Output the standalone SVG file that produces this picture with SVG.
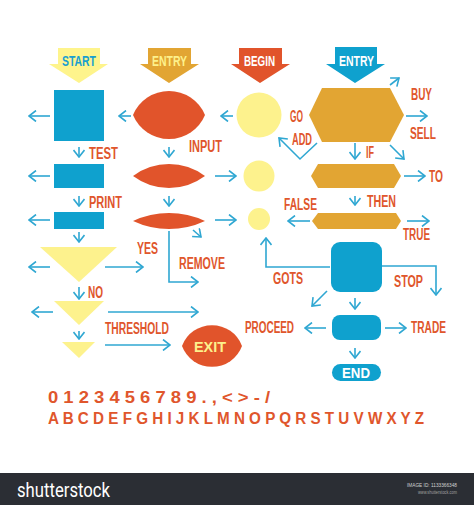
<svg xmlns="http://www.w3.org/2000/svg" width="474" height="505" viewBox="0 0 474 505">
<defs>
<style>
.bl{fill:#0fa1ce}
.or{fill:#e1542b}
.ye{fill:#fdf28d}
.go{fill:#e2a533}
.c{fill:none;stroke:#2fa7d2;stroke-width:1.6;marker-end:url(#ah)}
.t{font-family:"Liberation Sans",Arial,sans-serif;font-weight:bold;font-size:16px;fill:#e0562c}
.h{font-family:"Liberation Sans",Arial,sans-serif;font-weight:bold;font-size:15px}
</style>
<marker id="ah" viewBox="0 0 10 12" refX="9" refY="6" markerWidth="10" markerHeight="12" markerUnits="userSpaceOnUse" orient="auto">
<path d="M2,0.5 L9,6 L2,11.5" fill="none" stroke="#2fa7d2" stroke-width="1.6"/>
</marker>
</defs>
<rect width="474" height="505" fill="#ffffff"/>

<g id="hdr-start"><path d="M58,48 H100 V64 H108 L79,83 L49,64 H58 Z" fill="#fef48c"/><text class="h" x="62" y="66" textLength="34" lengthAdjust="spacingAndGlyphs" fill="#1a9fcf">START</text></g>
<g id="hdr-entry1"><path d="M148,48 H191 V64 H199 L169,83 L140,64 H148 Z" class="go"/><text class="h" x="152" y="66" textLength="35" lengthAdjust="spacingAndGlyphs" fill="#fdf18c">ENTRY</text></g>
<g id="hdr-begin"><path d="M239,48 H282 V64 H290 L260,83 L231,64 H239 Z" class="or"/><text class="h" x="244" y="66" textLength="31" lengthAdjust="spacingAndGlyphs" fill="#ffffff">BEGIN</text></g>
<g id="hdr-entry2"><path d="M335,47 H377 V64 H385 L355,83 L326,64 H335 Z" class="bl"/><text class="h" x="339" y="66" textLength="35" lengthAdjust="spacingAndGlyphs" fill="#ffffff">ENTRY</text></g>

<g id="sq1"><rect x="54" y="90" width="50" height="51" class="bl"/></g>
<g id="sq2"><rect x="54" y="164" width="50" height="24" class="bl"/></g>
<g id="sq3"><rect x="54" y="212" width="50" height="17" class="bl"/></g>
<g id="tri1"><path d="M40,247 H117 L79,282 Z" class="ye"/></g>
<g id="tri2"><path d="M54,301 H104 L79,325 Z" class="ye"/></g>
<g id="tri3"><path d="M62,342 H95 L79,358 Z" class="ye"/></g>

<g id="leaf1"><path d="M133,115 A39,39 0 0 1 205,115 A39,39 0 0 1 133,115 Z" class="or"/></g>
<g id="leaf2"><path d="M133,176 A60,60 0 0 1 205,176 A60,60 0 0 1 133,176 Z" class="or"/></g>
<g id="leaf3"><path d="M133,221 A85,85 0 0 1 205,221 A85,85 0 0 1 133,221 Z" class="or"/></g>
<g id="exit"><path d="M182,346 A32,32 0 0 1 242,346 A32,32 0 0 1 182,346 Z" class="or"/><text class="h" font-size="19" x="194" y="352" textLength="32" lengthAdjust="spacingAndGlyphs" fill="#fdf18c">EXIT</text></g>

<g id="circ1"><circle cx="259" cy="115" r="22.5" class="ye"/></g>
<g id="circ2"><circle cx="259" cy="176" r="15.5" class="ye"/></g>
<g id="circ3"><circle cx="259" cy="219" r="11" class="ye"/></g>

<g id="hex1"><path d="M322,88 H390 L404,115 L390,142 H322 L309,115 Z" class="go"/></g>
<g id="hex2"><path d="M318,164 H394 L401,176 L394,188 H318 L311,176 Z" class="go"/></g>
<g id="hex3"><path d="M318,213 H396 L401,221 L396,229 H318 L312,221 Z" class="go"/></g>

<g id="box1"><rect x="331" y="242" width="51" height="50" rx="9" class="bl"/></g>
<g id="box2"><rect x="332" y="315" width="49" height="25" rx="8" class="bl"/></g>
<g id="end"><rect x="332" y="364" width="49" height="17" rx="8.5" class="bl"/><text class="h" font-size="16" x="342" y="378" textLength="28" lengthAdjust="spacingAndGlyphs" fill="#ffffff">END</text></g>

<g id="connectors">
<path class="c" d="M50,116 H29"/>
<path class="c" d="M50,176 H29"/>
<path class="c" d="M50,220 H29"/>
<path class="c" d="M50,267 H29"/>
<path class="c" d="M53,312 H32"/>
<path class="c" d="M79,147 V157"/>
<path class="c" d="M79,196 V206"/>
<path class="c" d="M79,232 V242"/>
<path class="c" d="M79,287 V299"/>
<path class="c" d="M79,331 V339"/>
<path class="c" d="M105,267 H143"/>
<path class="c" d="M108,312 H198"/>
<path class="c" d="M105,345 H170"/>
<path class="c" d="M131,116 H119"/>
<path class="c" d="M169,147 V157"/>
<path class="c" d="M169,196 V206"/>
<path class="c" d="M215,176 H236"/>
<path class="c" d="M215,220 H236"/>
<path class="c" d="M169,231 V282 H198"/>
<path class="c" d="M193,230 L201,237"/>
<path class="c" d="M233,116 H221"/>
<path class="c" d="M317,143 L300,159 L279,138"/>
<path class="c" d="M390,85 L399,78"/>
<path class="c" d="M406,116 H427"/>
<path class="c" d="M390,145 L404,159"/>
<path class="c" d="M355,143 V159"/>
<path class="c" d="M404,176 H425"/>
<path class="c" d="M355,196 V205"/>
<path class="c" d="M310,221 H288"/>
<path class="c" d="M407,221 H429"/>
<path class="c" d="M330,267 H266 V238"/>
<path class="c" d="M382,266 H436 V295"/>
<path class="c" d="M327,291 L312,306"/>
<path class="c" d="M355,298 V309"/>
<path class="c" d="M326,328 H305"/>
<path class="c" d="M385,328 H406"/>
<path class="c" d="M355,348 V358"/>
</g>

<g id="labels">
<text class="t" x="89" y="159" textLength="29" lengthAdjust="spacingAndGlyphs">TEST</text>
<text class="t" x="89" y="208" textLength="33" lengthAdjust="spacingAndGlyphs">PRINT</text>
<text class="t" x="189" y="152" textLength="33" lengthAdjust="spacingAndGlyphs">INPUT</text>
<text class="t" x="137" y="254" textLength="21" lengthAdjust="spacingAndGlyphs">YES</text>
<text class="t" x="88" y="298" textLength="15" lengthAdjust="spacingAndGlyphs">NO</text>
<text class="t" x="179" y="269" textLength="46" lengthAdjust="spacingAndGlyphs">REMOVE</text>
<text class="t" x="105" y="334" textLength="64" lengthAdjust="spacingAndGlyphs">THRESHOLD</text>
<text class="t" x="245" y="333" textLength="49" lengthAdjust="spacingAndGlyphs">PROCEED</text>
<text class="t" x="411" y="333" textLength="35" lengthAdjust="spacingAndGlyphs">TRADE</text>
<text class="t" x="273" y="284" textLength="30" lengthAdjust="spacingAndGlyphs">GOTS</text>
<text class="t" x="394" y="287" textLength="29" lengthAdjust="spacingAndGlyphs">STOP</text>
<text class="t" x="284" y="210" textLength="33" lengthAdjust="spacingAndGlyphs">FALSE</text>
<text class="t" x="403" y="240" textLength="27" lengthAdjust="spacingAndGlyphs">TRUE</text>
<text class="t" x="367" y="207" textLength="29" lengthAdjust="spacingAndGlyphs">THEN</text>
<text class="t" x="429" y="182" textLength="14" lengthAdjust="spacingAndGlyphs">TO</text>
<text class="t" x="366" y="158" textLength="8" lengthAdjust="spacingAndGlyphs">IF</text>
<text class="t" x="410" y="139" textLength="26" lengthAdjust="spacingAndGlyphs">SELL</text>
<text class="t" x="411" y="100" textLength="21" lengthAdjust="spacingAndGlyphs">BUY</text>
<text class="t" x="290" y="122" textLength="13" lengthAdjust="spacingAndGlyphs">GO</text>
<text class="t" x="292" y="145" textLength="20" lengthAdjust="spacingAndGlyphs">ADD</text>
<text class="t" font-size="18" x="48" y="403" textLength="222" lengthAdjust="spacingAndGlyphs">0 1 2 3 4 5 6 7 8 9 . , &lt; &gt; - /</text>
<text class="t" font-size="18" x="48" y="424" textLength="376" lengthAdjust="spacingAndGlyphs">A B C D E F G H I J K L M N O P Q R S T U V W X Y Z</text>
</g>

<g id="footer">
<rect x="0" y="473" width="474" height="32" fill="#2b2e34"/>
<text x="17" y="497" font-family="Roboto,'Liberation Sans',sans-serif" font-size="20" fill="#ffffff" textLength="93" lengthAdjust="spacingAndGlyphs">shutterstock</text>
<text x="407" y="487" font-family="'Liberation Sans',sans-serif" font-size="5.5" fill="#d0d0d0" textLength="50" lengthAdjust="spacingAndGlyphs">IMAGE ID: 1133366348</text>
<text x="418" y="494" font-family="'Liberation Sans',sans-serif" font-size="5" fill="#a0a0a0" textLength="39" lengthAdjust="spacingAndGlyphs">www.shutterstock.com</text>
</g>
</svg>
